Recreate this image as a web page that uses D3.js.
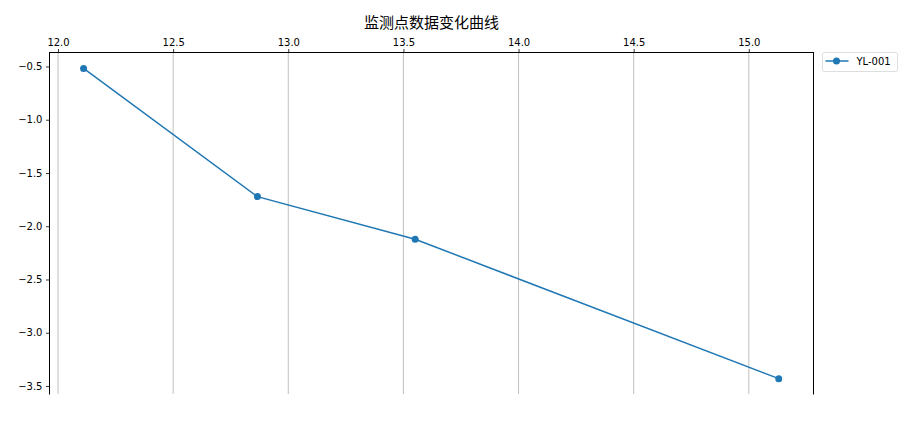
<!DOCTYPE html>
<html>
<head>
<meta charset="utf-8">
<script src="https://cdn.jsdelivr.net/npm/d3@7"></script>
<style>
  body { margin: 0; background: #fff; }
  svg { display: block; font-family: "DejaVu Sans", sans-serif; }
</style>
</head>
<body>
<div id="chart"></div>
<script>
'use strict';

// data
var chartTitle = '监测点数据变化曲线';
var seriesName = 'YL-001';
var xValues = [12.111, 12.866, 13.551, 15.130];
var yValues = [-0.519, -1.722, -2.122, -3.431];
var xTicks = [12.0, 12.5, 13.0, 13.5, 14.0, 14.5, 15.0];
var yTicks = [-0.5, -1.0, -1.5, -2.0, -2.5, -3.0, -3.5];

var width = 908, height = 440;
var margin = { top: 52.5, right: 94.5, bottom: 46, left: 49.5 };
var innerW = width - margin.left - margin.right;
var innerH = height - margin.top - margin.bottom;
var blue = '#1f77b4';

var svg = d3.select('#chart').append('svg')
  .attr('width', width)
  .attr('height', height);

var x = d3.scaleLinear().domain([11.963, 15.281]).range([0, innerW]);
var y = d3.scaleLinear().domain([-0.369, -3.575]).range([0, innerH]);

var g = svg.append('g')
  .attr('transform', 'translate(' + margin.left + ',' + margin.top + ')');

// vertical grid lines only
g.append('g').selectAll('line')
  .data(xTicks)
  .join('line')
  .attr('x1', d => x(d)).attr('x2', d => x(d))
  .attr('y1', 0).attr('y2', innerH)
  .attr('stroke', '#b0b0b0')
  .attr('stroke-width', 0.8);

// minus sign like matplotlib
var fmt = d => d3.format('.1f')(d).replace('-', '\u2212');

// x axis sits on top
var xAxis = g.append('g')
  .call(d3.axisTop(x).tickValues(xTicks).tickFormat(fmt).tickSize(3.5).tickPadding(3.5));

var yAxis = g.append('g')
  .call(d3.axisLeft(y).tickValues(yTicks).tickFormat(fmt).tickSize(3.5).tickPadding(3.5));

[xAxis, yAxis].forEach(function (ax) {
  ax.select('.domain').remove();
  ax.selectAll('.tick line').attr('stroke', '#000').attr('stroke-width', 0.8);
  ax.selectAll('.tick text')
    .attr('fill', '#000')
    .style('font-size', '10px')
    .style('font-family', '"DejaVu Sans", sans-serif');
});

// spines: top, left, right (no bottom)
var spines = [
  [0, 0, innerW, 0],
  [0, 0, 0, innerH],
  [innerW, 0, innerW, innerH]
];
g.append('g').selectAll('line')
  .data(spines)
  .join('line')
  .attr('x1', d => d[0]).attr('y1', d => d[1])
  .attr('x2', d => d[2]).attr('y2', d => d[3])
  .attr('stroke', '#000')
  .attr('stroke-width', 1)
  .attr('stroke-linecap', 'square');

var points = xValues.map((v, i) => [v, yValues[i]]);

var line = d3.line()
  .x(d => x(d[0]))
  .y(d => y(d[1]));

g.append('path')
  .datum(points)
  .attr('d', line)
  .attr('fill', 'none')
  .attr('stroke', blue)
  .attr('stroke-width', 1.5);

g.append('g').selectAll('circle')
  .data(points)
  .join('circle')
  .attr('cx', d => x(d[0]))
  .attr('cy', d => y(d[1]))
  .attr('r', 3.5)
  .attr('fill', blue);

// title
svg.append('text')
  .attr('x', margin.left + innerW / 2)
  .attr('y', 28)
  .attr('text-anchor', 'middle')
  .style('font-size', '15px')
  .style('font-family', '"Noto Sans CJK SC", "DejaVu Sans", sans-serif')
  .text(chartTitle);

// legend outside the plot on the right
var legend = svg.append('g')
  .attr('transform', 'translate(822.5,52.5)');

legend.append('rect')
  .attr('width', 75)
  .attr('height', 19)
  .attr('rx', 2)
  .attr('fill', '#fff')
  .attr('stroke', '#d6d6d6')
  .attr('stroke-width', 0.8);

legend.append('line')
  .attr('x1', 3).attr('x2', 26)
  .attr('y1', 8.5).attr('y2', 8.5)
  .attr('stroke', blue)
  .attr('stroke-width', 1.5);

legend.append('circle')
  .attr('cx', 14).attr('cy', 8.5)
  .attr('r', 3.5)
  .attr('fill', blue);

legend.append('text')
  .attr('x', 34)
  .attr('y', 12.3)
  .style('font-size', '10px')
  .text(seriesName);
</script>
</body>
</html>
